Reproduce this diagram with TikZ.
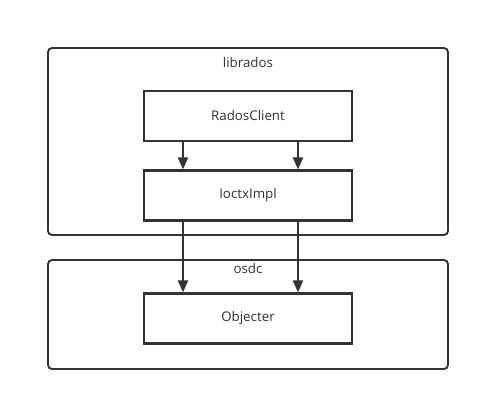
\documentclass[tikz,border=0pt]{standalone}
\usepackage{fontspec}
\setmainfont{Open Sans}
\usetikzlibrary{arrows.meta}
\definecolor{ink}{HTML}{333333}
\tikzset{
  grp/.style={draw=ink, line width=1.4pt, rounded corners=3pt},
  cls/.style={draw=ink, line width=1.6pt, minimum width=156pt, minimum height=37.5pt, inner sep=0pt, font=\fontsize{10pt}{12pt}\selectfont, text=ink},
  lbl/.style={font=\fontsize{10pt}{12pt}\selectfont, text=ink, inner sep=0pt},
  arr/.style={draw=ink, line width=1.6pt, -{Triangle[length=9pt,width=7.5pt]}}
}
\begin{document}
\begin{tikzpicture}[x=0.75pt,y=-0.75pt]
\useasboundingbox (0,0) rectangle (480,402);
\fill[white] (0,0) rectangle (480,402);
\draw[grp] (48,48) rectangle (448,235);
\draw[grp] (48,260) rectangle (448,369);
\node[lbl] (lib) at (248,63) {librados};
\node[lbl] (osdc) at (248,269) {osdc};
\node[cls] (rc) at (248,116) {RadosClient};
\node[cls] (io) at (248,195.5) {IoctxImpl};
\node[cls] (ob) at (248,318.5) {Objecter};
\draw[arr] (rc.south -| 183,0) -- (io.north -| 183,0);
\draw[arr] (rc.south -| 298,0) -- (io.north -| 298,0);
\draw[arr] (io.south -| 183,0) -- (ob.north -| 183,0);
\draw[arr] (io.south -| 298,0) -- (ob.north -| 298,0);
\end{tikzpicture}
\end{document}
